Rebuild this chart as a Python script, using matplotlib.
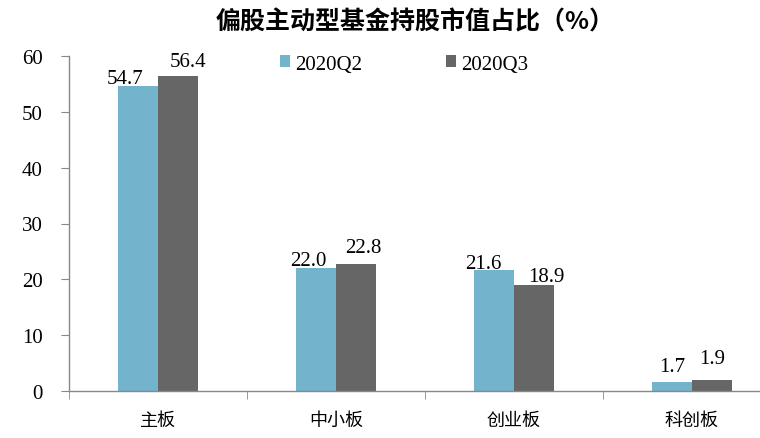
import matplotlib
matplotlib.use("Agg")
import matplotlib.pyplot as plt
import numpy as np

categories = ["主板", "中小板", "创业板", "科创板"]
series_names = ["2020Q2", "2020Q3"]
q2_values = [54.7, 22.0, 21.6, 1.7]
q3_values = [56.4, 22.8, 18.9, 1.9]
yticks = [0, 10, 20, 30, 40, 50, 60]
title = "偏股主动型基金持股市值占比（%）"

# manual label nudges (pixels) as placed in the original chart
q2_label_dx = [-13, -8, -11, 0]
q2_label_dy = [3, 3, 2, 11]
q3_label_dx = [10, 7, 12, 0]
q3_label_dy = [10, 12, 4, 17]

colors = ["#74B3CC", "#666666"]
serif = ["Liberation Serif", "DejaVu Serif"]
cjk = ["Noto Sans CJK SC", "DejaVu Sans"]

fig = plt.figure(figsize=(7.6, 4.39), dpi=100)
ax = fig.add_axes([69/760, (439-392)/439, 712/760, (392-57)/439])

x = np.arange(len(categories))
w = 0.225
b1 = ax.bar(x - w/2, q2_values, w, color=colors[0], label=series_names[0])
b2 = ax.bar(x + w/2, q3_values, w, color=colors[1], label=series_names[1])

px2pt = 72 / 100
for bars, vals, dxs, dys in ((b1, q2_values, q2_label_dx, q2_label_dy),
                             (b2, q3_values, q3_label_dx, q3_label_dy)):
    for rect, v, dx, dy in zip(bars, vals, dxs, dys):
        ax.annotate(f"{v:.1f}", (rect.get_x() + rect.get_width()/2, v),
                    xytext=(dx * px2pt, dy * px2pt), textcoords="offset points",
                    ha="center", va="baseline", fontsize=15, family=serif)

ax.set_xlim(-0.5, len(categories) - 0.5)
ax.set_ylim(0, 60)
ax.set_yticks(yticks)
ax.set_yticklabels([str(t) for t in yticks], family=serif, fontsize=15)
ax.set_xticks(x)
ax.set_xticklabels(categories, family=cjk, fontsize=13)
ax.set_xticks(np.arange(len(categories) + 1) - 0.5, minor=True)
ax.tick_params(axis="x", which="major", length=0, pad=14)
ax.tick_params(axis="x", which="minor", length=6, color="#888888", direction="out")
ax.tick_params(axis="y", length=6, color="#888888", direction="out", pad=13)

for s in ["top", "right"]:
    ax.spines[s].set_visible(False)
for s in ["left", "bottom"]:
    ax.spines[s].set_color("#888888")
    ax.spines[s].set_linewidth(1)

leg = ax.legend(loc="upper left", bbox_to_anchor=(0.27, 1.06), ncol=2, frameon=False,
                prop={"family": serif, "size": 15}, handlelength=0.5, handleheight=0.5,
                handletextpad=0.25, columnspacing=4.0)

fig.text(415/760, 1 - 22/439, title, ha="center", va="center", fontsize=18,
         fontweight="bold", family=cjk)

fig.savefig("out.png", dpi=100)
